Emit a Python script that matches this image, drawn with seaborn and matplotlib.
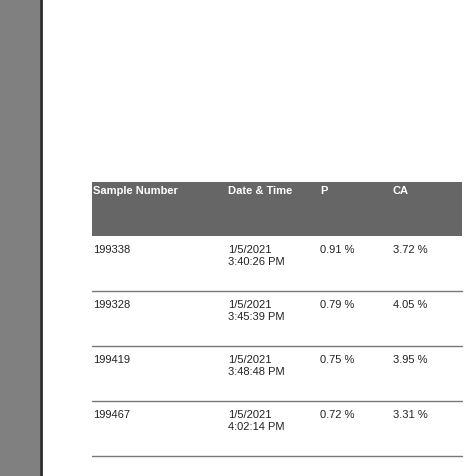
import matplotlib.pyplot as plt
import seaborn as sns
from matplotlib.patches import Rectangle

sns.set_style("white")
plt.rcParams['font.family'] = ['Liberation Sans', 'DejaVu Sans']

headers = ['Sample Number', 'Date & Time', 'P', 'CA']
sample_numbers = ['199338', '199328', '199419', '199467']
dates = ['1/5/2021', '1/5/2021', '1/5/2021', '1/5/2021']
times = ['3:40:26 PM', '3:45:39 PM', '3:48:48 PM', '4:02:14 PM']
p_values = [0.91, 0.79, 0.75, 0.72]
ca_values = [3.72, 4.05, 3.95, 3.31]

col_x = [93, 228, 320, 393]
fig = plt.figure(figsize=(4.74, 4.77), dpi=100)
ax = fig.add_axes([0, 0, 1, 1])
ax.set_xlim(0, 474)
ax.set_ylim(477, 0)
ax.axis('off')

# left grey panel
ax.add_patch(Rectangle((0, 0), 40, 477, color='#808080', lw=0))
ax.plot([41, 41], [0, 477], color='#2a2a2a', lw=2)

# header
ax.add_patch(Rectangle((92, 183), 370, 54, color='#666666', lw=0))
for x, h in zip(col_x, headers):
    ax.text(x, 186, h, color='white', fontsize=8, fontweight='bold', va='top')

row_h = 55
for i in range(len(sample_numbers)):
    y0 = 237 + i * row_h
    ax.text(col_x[0], y0 + 8, sample_numbers[i], fontsize=8, va='top', color='#222222')
    ax.text(col_x[1], y0 + 8, dates[i] + '\n' + times[i], fontsize=8, va='top',
            color='#222222', linespacing=1.3)
    ax.text(col_x[2], y0 + 8, f'{p_values[i]:.2f} %', fontsize=8, va='top', color='#222222')
    ax.text(col_x[3], y0 + 8, f'{ca_values[i]:.2f} %', fontsize=8, va='top', color='#222222')
    ax.plot([92, 462], [y0 + row_h, y0 + row_h], color='#777777', lw=1)

fig.savefig('out.png', dpi=100)
